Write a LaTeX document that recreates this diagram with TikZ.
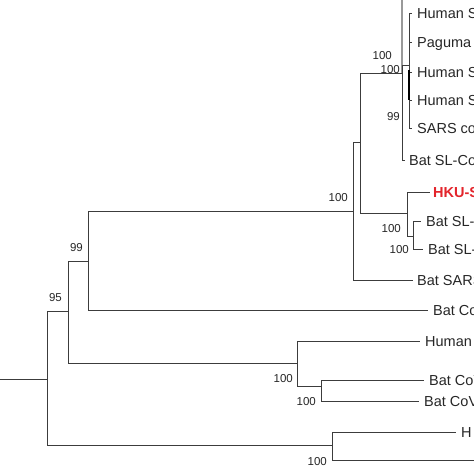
\documentclass[tikz,border=0pt]{standalone}
\usepackage{fontspec}
\setmainfont{Liberation Sans}
\usetikzlibrary{positioning}
\definecolor{treeline}{HTML}{3C3C3C}
\definecolor{hkured}{HTML}{E3242B}
\tikzset{
  branch/.style={draw=treeline, line width=0.9pt},
  fatgray/.style={draw=gray!80, line width=2.4pt},
  fatblack/.style={draw=black, line width=2pt},
  leaf/.style={anchor=west, inner sep=0pt, text height=10pt, text depth=0pt,
    font=\fontsize{14.5}{15}\selectfont, text=black!85},
  hku/.style={leaf, font=\fontsize{14.5}{15}\selectfont\bfseries, text=hkured},
  boot/.style={anchor=east, inner sep=0pt, font=\fontsize{11.5}{12}\selectfont, text=black!85}
}

\begin{document}
\begin{tikzpicture}[x=1pt, y=-1pt]
  \useasboundingbox (0,0) rectangle (474,474);
  \clip (0,0) rectangle (474,474);

  % internal nodes
  \coordinate (r0) at (0,379);
  \coordinate (n1) at (47,379);
  \coordinate (n95) at (68,311);
  \coordinate (n5) at (332,445);
  \coordinate (n99) at (88,261);
  \coordinate (n6) at (297,363);
  \coordinate (n7) at (321,386);
  \coordinate (nA) at (353,211);
  \coordinate (nB) at (360,142);
  \coordinate (nC) at (402,73);
  \coordinate (nD) at (409,65);
  \coordinate (nH) at (407,213);
  \coordinate (nS) at (413,236);
  \coordinate (cTop) at (402,-4);
  \coordinate (dFat1) at (409,70);
  \coordinate (dFat2) at (409,100);

  % tips
  \coordinate (lHu1) at (412,13);
  \coordinate (lPag) at (412,42);
  \coordinate (lHu2) at (412,72);
  \coordinate (lHu3) at (412,100);
  \coordinate (lSars) at (412,128);
  \coordinate (lSLCo) at (405,160);
  \coordinate (lHKU) at (430,192);
  \coordinate (lSL1) at (421,221);
  \coordinate (lSL2) at (423,249);
  \coordinate (lBSars) at (413,280);
  \coordinate (lBCo) at (428,310);
  \coordinate (lHuman) at (420,341);
  \coordinate (lCoV1) at (424,380);
  \coordinate (lCoV2) at (419,401);
  \coordinate (lH) at (456,432);
  \coordinate (lEnd) at (480,460);

  % branches
  \draw[branch] (r0) -- (n1);
  \draw[branch] (n1) |- (n95);
  \draw[branch] (n1) |- (n5);
  \draw[branch] (n95) |- (n99);
  \draw[branch] (n95) |- (n6);
  \draw[branch] (n99) |- (nA);
  \draw[branch] (n99) |- (lBCo);
  \draw[branch] (nA) |- (nB);
  \draw[branch] (nA) |- (lBSars);
  \draw[branch] (nB) |- (nC);
  \draw[branch] (nB) |- (nH);
  \draw[branch] (nC) |- (lSLCo);
  \draw[fatgray] (cTop) -- (nC);
  \draw[branch] (nC) |- (nD);
  \foreach \t in {lHu1,lPag,lHu2,lHu3,lSars}
    \draw[branch] (nD) |- (\t);
  \draw[fatblack] (dFat1) -- (dFat2);
  \draw[branch] (nH) |- (lHKU);
  \draw[branch] (nH) |- (nS);
  \draw[branch] (nS) |- (lSL1);
  \draw[branch] (nS) |- (lSL2);
  \draw[branch] (n6) |- (lHuman);
  \draw[branch] (n6) |- (n7);
  \draw[branch] (n7) |- (lCoV1);
  \draw[branch] (n7) |- (lCoV2);
  \draw[branch] (n5) |- (lH);
  \draw[branch] (n5) |- (lEnd);

  % tip labels
  \node[leaf, right=5pt of lHu1] (tHu1) {Human S};
  \node[leaf, right=5pt of lPag] (tPag) {Paguma};
  \node[leaf, right=5pt of lHu2] (tHu2) {Human S};
  \node[leaf, right=5pt of lHu3] (tHu3) {Human S};
  \node[leaf, right=5pt of lSars] (tSars) {SARS co};
  \node[leaf, right=4pt of lSLCo] (tSLCo) {Bat SL-Co};
  \node[hku, right=3pt of lHKU] (tHKU) {HKU-S};
  \node[leaf, right=5pt of lSL1] (tSL1) {Bat SL-};
  \node[leaf, right=5pt of lSL2] (tSL2) {Bat SL-};
  \node[leaf, right=4pt of lBSars] (tBSars) {Bat SARS};
  \node[leaf, right=5pt of lBCo] (tBCo) {Bat Co};
  \node[leaf, right=5pt of lHuman] (tHuman) {Human};
  \node[leaf, right=5pt of lCoV1] (tCoV1) {Bat CoV};
  \node[leaf, right=5pt of lCoV2] (tCoV2) {Bat CoV};
  \node[leaf, right=5pt of lH] (tH) {H};

  % bootstrap values
  \node[boot] (b95) at (62,298) {95};
  \node[boot] (b99) at (83,248) {99};
  \node[boot] (bA) at (348,198) {100};
  \node[boot] (bC) at (392,56) {100};
  \node[boot] (bD) at (400,70) {100};
  \node[boot] (bD2) at (400,117) {99};
  \node[boot] (bH) at (401,229) {100};
  \node[boot] (bS) at (409,250) {100};
  \node[boot] (b6) at (293,379) {100};
  \node[boot] (b7) at (316,402) {100};
  \node[boot] (b5) at (327,462) {100};
\end{tikzpicture}
\end{document}
